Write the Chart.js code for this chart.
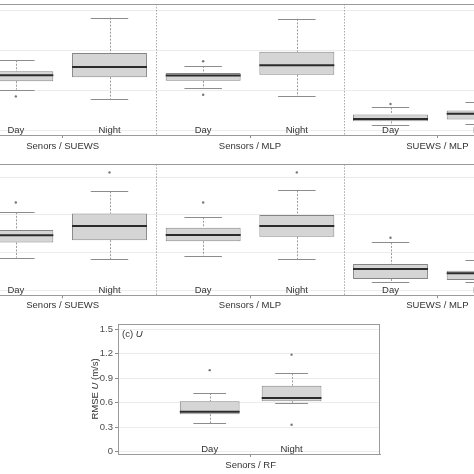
<!DOCTYPE html>
<html>
<head>
<meta charset="utf-8">
<script src="https://cdn.jsdelivr.net/npm/chart.js@4.4.1/dist/chart.umd.min.js"></script>
<style>
  html, body { margin: 0; padding: 0; background: #fff; overflow: hidden; width: 474px; height: 474px; }
  .panel { position: absolute; }
</style>
</head>
<body>
<div class="panel" style="left:-35px;top:0;width:570px;height:155px"><canvas id="rowA"></canvas></div>
<div class="panel" style="left:-35px;top:155px;width:570px;height:160px"><canvas id="rowB"></canvas></div>
<div class="panel" style="left:0;top:315px;width:474px;height:159px"><canvas id="panelC"></canvas></div>
<script>
// data block
const groups = ['Senors / SUEWS', 'Sensors / MLP', 'SUEWS / MLP'];
const periods = ['Day', 'Night'];
const boxX = [0.5, 1.5, 2.5, 3.5, 4.5, 5.5];
const rowTicks = [0, 1, 2, 3];

// top row
const aLow  = [1.02, 0.79, 1.06, 0.85, 0.14, 0.175];
const aQ1   = [1.23, 1.33, 1.24, 1.39, 0.23, 0.275];
const aMed  = [1.375, 1.58, 1.37, 1.625, 0.29, 0.42];
const aQ3   = [1.475, 1.93, 1.43, 1.96, 0.40, 0.50];
const aHigh = [1.75, 2.81, 1.61, 2.78, 0.575, 0.71];
const aOutX = [0.5, 2.5, 2.5, 4.5];
const aOutY = [0.85, 1.725, 0.89, 0.66];

// middle row
const bLow  = [0.865, 0.83, 0.92, 0.82, 0.23, 0.23];
const bQ1   = [1.27, 1.33, 1.30, 1.42, 0.30, 0.27];
const bMed  = [1.46, 1.705, 1.47, 1.705, 0.565, 0.45];
const bQ3   = [1.60, 2.04, 1.66, 2.00, 0.70, 0.52];
const bHigh = [2.07, 2.63, 1.94, 2.65, 1.27, 0.81];
const bOutX = [0.5, 1.5, 2.5, 3.5, 4.5];
const bOutY = [2.33, 3.13, 2.33, 3.13, 1.395];

// panel (c) U
const cGroup = 'Senors / RF';
const cX    = [0.5, 1.5];
const cLow  = [0.35, 0.60];
const cQ1   = [0.46, 0.62];
const cMed  = [0.49, 0.66];
const cQ3   = [0.62, 0.81];
const cHigh = [0.72, 0.96];
const cOutX = [0.5, 1.5, 1.5];
const cOutY = [1.00, 1.19, 0.33];
const cTicks = [0, 0.3, 0.6, 0.9, 1.2, 1.5];
const cTickLabels = ['0', '0.3', '0.6', '0.9', '1.2', '1.5'];

const FONT = "'Liberation Sans', Arial, sans-serif";
const TXT = '#333333';
const FRAME = '#9a9a9a';
const GRID = '#ececec';

// whiskers, caps, medians, labels
function boxPlugin(opts) {
  return {
    id: 'boxParts',
    beforeDatasetsDraw(chart) {
      const {ctx, chartArea: ca, scales: {x, y}} = chart;
      ctx.save();
      // facet separators
      ctx.strokeStyle = '#a8a8a8';
      ctx.lineWidth = 1;
      ctx.setLineDash([1.5, 1.5]);
      (opts.seps || []).forEach(s => {
        const px = Math.round(x.getPixelForValue(s)) + 0.5;
        ctx.beginPath();
        ctx.moveTo(px, ca.top);
        ctx.lineTo(px, ca.bottom);
        ctx.stroke();
      });
      // whisker stems
      ctx.strokeStyle = '#9a9a9a';
      ctx.setLineDash([2, 1.5]);
      opts.xs.forEach((v, i) => {
        const px = Math.round(x.getPixelForValue(v)) + 0.5;
        ctx.beginPath();
        ctx.moveTo(px, y.getPixelForValue(opts.high[i]));
        ctx.lineTo(px, y.getPixelForValue(opts.q3[i]));
        ctx.moveTo(px, y.getPixelForValue(opts.q1[i]));
        ctx.lineTo(px, y.getPixelForValue(opts.low[i]));
        ctx.stroke();
      });
      // caps
      ctx.setLineDash([]);
      ctx.strokeStyle = '#8c8c8c';
      opts.xs.forEach((v, i) => {
        const l = x.getPixelForValue(v - 0.2);
        const r = x.getPixelForValue(v + 0.2);
        [opts.high[i], opts.low[i]].forEach(w => {
          const py = Math.round(y.getPixelForValue(w)) + 0.5;
          ctx.beginPath();
          ctx.moveTo(l, py);
          ctx.lineTo(r, py);
          ctx.stroke();
        });
      });
      ctx.restore();
    },
    afterDatasetsDraw(chart) {
      const {ctx, chartArea: ca, scales: {x, y}} = chart;
      ctx.save();
      // medians
      const bars = chart.getDatasetMeta(0).data;
      ctx.strokeStyle = '#2b2b2b';
      ctx.lineWidth = 2;
      bars.forEach((b, i) => {
        const py = y.getPixelForValue(opts.med[i]);
        ctx.beginPath();
        ctx.moveTo(b.x - b.width / 2, py);
        ctx.lineTo(b.x + b.width / 2, py);
        ctx.stroke();
      });
      // frame
      ctx.strokeStyle = FRAME;
      ctx.lineWidth = 1;
      ctx.strokeRect(Math.round(ca.left) + 0.5, Math.round(ca.top) + 0.5,
        Math.round(ca.right - ca.left) - 1, Math.round(ca.bottom - ca.top));
      // Day / Night labels
      ctx.fillStyle = TXT;
      ctx.font = '9.5px ' + FONT;
      ctx.textAlign = 'center';
      ctx.textBaseline = 'middle';
      opts.xs.forEach((v, i) => {
        ctx.fillText(periods[i % 2], x.getPixelForValue(v), ca.bottom - 5);
      });
      ctx.restore();
    }
  };
}

function boxData(xs, q1, q3, outX, outY) {
  return {
    datasets: [{
      type: 'bar',
      data: xs.map((v, i) => ({x: v, y: [q1[i], q3[i]]})),
      backgroundColor: '#d5d5d5',
      borderColor: '#858585',
      borderWidth: 1,
      borderSkipped: false,
      categoryPercentage: 1
    }, {
      type: 'scatter',
      data: outX.map((v, i) => ({x: v, y: outY[i]})),
      pointRadius: 1.2,
      pointBackgroundColor: '#777',
      pointBorderWidth: 0
    }]
  };
}

function rowConfig(d, yMin, yMax, padTop, axisH, labelPad) {
  return {
    type: 'bar',
    data: boxData(boxX, d.q1, d.q3, d.outX, d.outY),
    options: {
      responsive: true,
      maintainAspectRatio: false,
      animation: false,
      layout: {padding: {top: padTop, left: 0, right: 0, bottom: 0}},
      datasets: {bar: {barPercentage: 0.8}},
      plugins: {legend: {display: false}, tooltip: {enabled: false}},
      scales: {
        x: {
          type: 'linear', min: 0, max: 6, offset: false,
          afterBuildTicks: s => { s.ticks = groups.map((g, i) => ({value: 1 + 2 * i})); },
          afterFit: s => { s.height = axisH; },
          grid: {drawOnChartArea: false, offset: false, tickLength: 3, color: '#8c8c8c'},
          border: {color: FRAME},
          ticks: {
            autoSkip: false, maxRotation: 0, padding: labelPad,
            color: TXT, font: {family: FONT, size: 9.5},
            callback: (v, i) => groups[i]
          }
        },
        y: {
          min: yMin, max: yMax,
          afterBuildTicks: s => { s.ticks = rowTicks.map(v => ({value: v})); },
          afterFit: s => { s.width = 0; },
          ticks: {display: false},
          grid: {color: GRID, drawTicks: false},
          border: {display: false}
        }
      }
    },
    plugins: [boxPlugin({xs: boxX, low: d.low, q1: d.q1, med: d.med, q3: d.q3, high: d.high, seps: [2, 4]})]
  };
}

// render rows
new Chart(document.getElementById('rowA'), rowConfig(
  {low: aLow, q1: aQ1, med: aMed, q3: aQ3, high: aHigh, outX: aOutX, outY: aOutY},
  -0.11, 3.15, 4, 20, 3));
new Chart(document.getElementById('rowB'), rowConfig(
  {low: bLow, q1: bQ1, med: bMed, q3: bQ3, high: bHigh, outX: bOutX, outY: bOutY},
  -0.133, 3.345, 9.3, 19.7, 1));

// panel (c) texts with italic U
const cTexts = {
  id: 'cTexts',
  afterDraw(chart) {
    const {ctx, chartArea: ca} = chart;
    const normal = '9.5px ' + FONT;
    const italic = 'italic 9.5px ' + FONT;
    function mixed(parts, x, y) {
      let cx = x;
      parts.forEach(p => {
        ctx.font = p[1];
        ctx.fillText(p[0], cx, y);
        cx += ctx.measureText(p[0]).width;
      });
      return cx - x;
    }
    ctx.save();
    ctx.fillStyle = TXT;
    ctx.textBaseline = 'middle';
    ctx.textAlign = 'left';
    mixed([['(c) ', normal], ['U', italic]], ca.left + 4, ca.top + 10);
    // y title
    const parts = [['RMSE ', normal], ['U', italic], [' (m/s)', normal]];
    let w = 0;
    parts.forEach(p => { ctx.font = p[1]; w += ctx.measureText(p[0]).width; });
    ctx.translate(95, (ca.top + ca.bottom) / 2);
    ctx.rotate(-Math.PI / 2);
    mixed(parts, -w / 2, 0);
    ctx.restore();
  }
};

const cConfig = {
  type: 'bar',
  data: boxData(cX, cQ1, cQ3, cOutX, cOutY),
  options: {
    responsive: true,
    maintainAspectRatio: false,
    animation: false,
    layout: {padding: {top: 9, left: 0, right: 94, bottom: 0}},
    datasets: {bar: {barPercentage: 0.73}},
    plugins: {legend: {display: false}, tooltip: {enabled: false}},
    scales: {
      x: {
        type: 'linear', min: -0.62, max: 2.58, offset: false,
        afterBuildTicks: s => { s.ticks = [{value: 1}]; },
        afterFit: s => { s.height = 20; },
        grid: {drawOnChartArea: false, offset: false, tickLength: 3, color: '#8c8c8c'},
        border: {color: FRAME},
        ticks: {
          autoSkip: false, maxRotation: 0, padding: 3,
          color: TXT, font: {family: FONT, size: 9.5},
          callback: () => cGroup
        }
      },
      y: {
        min: -0.028, max: 1.566,
        afterBuildTicks: s => { s.ticks = cTicks.map(v => ({value: v})); },
        afterFit: s => { s.width = 118; },
        ticks: {
          padding: 2, color: '#4d4d4d', font: {family: FONT, size: 9.5},
          callback: (v, i) => cTickLabels[i]
        },
        grid: {color: GRID, tickColor: '#8c8c8c', tickLength: 3},
        border: {color: FRAME}
      }
    }
  },
  plugins: [boxPlugin({xs: cX, low: cLow, q1: cQ1, med: cMed, q3: cQ3, high: cHigh}), cTexts]
};

new Chart(document.getElementById('panelC'), cConfig);
</script>
</body>
</html>
